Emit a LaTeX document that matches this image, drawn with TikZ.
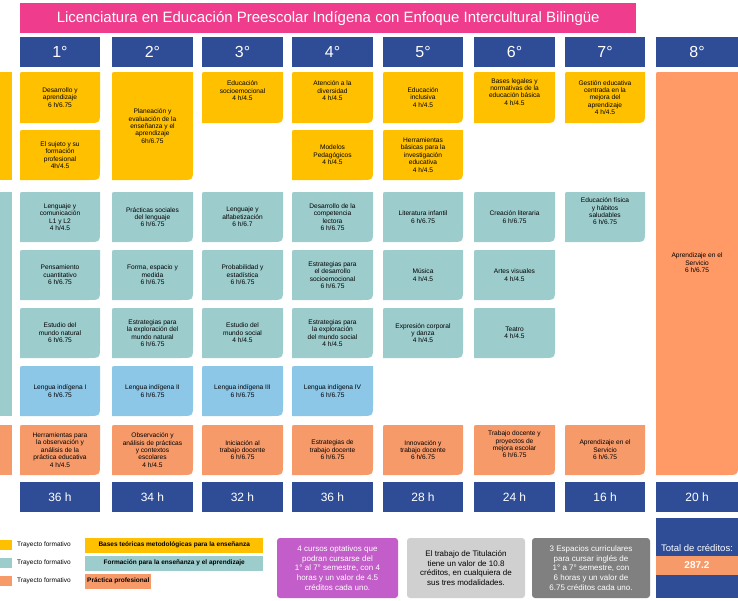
\documentclass[tikz,border=0pt]{standalone}
\usepackage{fontspec}
\setmainfont{Liberation Sans}
\definecolor{navy}{HTML}{2E4D96}
\definecolor{yel}{HTML}{FFC000}
\definecolor{teal2}{HTML}{9DCCCD}
\definecolor{lblue}{HTML}{8DC7E8}
\definecolor{ora}{HTML}{F79A6A}
\definecolor{ora8}{HTML}{FF9966}
\definecolor{pink2}{HTML}{F03C8C}
\definecolor{purp}{HTML}{C35DC9}
\definecolor{lgray}{HTML}{D0D0D0}
\definecolor{dgray}{HTML}{808080}
\tikzset{ctext/.style={align=center,font=\fontsize{6.6}{7.4}\selectfont,inner sep=0pt},
 hdr/.style={fill=navy,text=white,minimum height=30pt,inner sep=0pt,font=\fontsize{16}{18}\selectfont},
 tot/.style={fill=navy,text=white,minimum height=30pt,inner sep=0pt,font=\fontsize{12}{14}\selectfont},
 legtxt/.style={font=\fontsize{6.5}{7.5}\selectfont,anchor=west,inner sep=0pt},
 leglab/.style={font=\bfseries\fontsize{6.5}{7.5}\selectfont,anchor=west,inner sep=2pt,minimum height=15pt},
 note/.style={align=center,font=\fontsize{8}{9.6}\selectfont,inner sep=0pt}}
\newcommand\cb[7]{%
 \fill[#2] (#3,#4+3) .. controls (#3,#4) .. (#3+3,#4) -- (#5,#4) -- (#5,#6-12) .. controls (#5,#6) .. (#5-12,#6) -- (#3,#6) -- cycle;
 \node[ctext] (#1) at ({(#3+#5)/2},{(#4+#6)/2}) {#7};}
\begin{document}
\begin{tikzpicture}[x=1pt,y=-1pt]
\useasboundingbox (0,0) rectangle (738,600);
% title
\node[fill=pink2,text=white,anchor=north west,minimum width=616pt,minimum height=30pt,inner sep=0pt,font=\fontsize{15}{17}\selectfont] (title) at (20,3) {Licenciatura en Educación Preescolar Indígena con Enfoque Intercultural Bilingüe};
% headers
\foreach \n/\a/\b in {1/20/100,2/112/193,3/202/283,4/292/373,5/383/463,6/474/555,7/565/645,8/656/738}{
 \node[hdr,minimum width={(\b-\a)*1pt}] (h\n) at ({(\a+\b)/2},52) {\n°};}
% left strips
\fill[yel] (0,72) rectangle (12,180);
\fill[teal2] (0,192) rectangle (12,416);
\fill[ora] (0,425) rectangle (12,475);
% yellow
\cb{y11}{yel}{20}{72}{100}{123}{Desarrollo y\\aprendizaje\\6 h/6.75}
\cb{y12}{yel}{20}{130}{100}{180}{El sujeto y su\\formación\\profesional\\4h/4.5}
\cb{y2}{yel}{112}{72}{193}{180}{Planeación y\\evaluación de la\\enseñanza y el\\aprendizaje\\6h/6.75}
\cb{y3}{yel}{202}{72}{283}{123}{Educación\\socioemocional\\4 h/4.5\\[6pt]}
\cb{y41}{yel}{292}{72}{373}{123}{Atención a la\\diversidad\\4 h/4.5\\[6pt]}
\cb{y42}{yel}{292}{130}{373}{180}{Modelos\\Pedagógicos\\4 h/4.5}
\cb{y51}{yel}{383}{72}{463}{123}{Educación\\inclusiva\\4 h/4.5}
\cb{y52}{yel}{383}{130}{463}{180}{Herramientas\\básicas para la\\investigación\\educativa\\4 h/4.5}
\cb{y6}{yel}{474}{72}{555}{123}{Bases legales y\\normativas de la\\educación básica\\4 h/4.5\\[4pt]}
\cb{y7}{yel}{565}{72}{645}{123}{Gestión educativa\\centrada en la\\mejora del\\aprendizaje\\4 h/4.5}
% teal row1
\cb{t11}{teal2}{20}{192}{100}{242}{Lenguaje y\\comunicación\\L1 y L2\\4 h/4.5}
\cb{t21}{teal2}{112}{192}{193}{242}{Prácticas sociales\\del lenguaje\\6 h/6.75}
\cb{t31}{teal2}{202}{192}{283}{242}{Lenguaje y\\alfabetización\\6 h/6.7}
\cb{t41}{teal2}{292}{192}{373}{242}{Desarrollo de la\\competencia\\lectora\\6 h/6.75}
\cb{t51}{teal2}{383}{192}{463}{242}{Literatura infantil\\6 h/6.75}
\cb{t61}{teal2}{474}{192}{555}{242}{Creación literaria\\6 h/6.75}
\cb{t71}{teal2}{565}{192}{645}{242}{Educación física\\y hábitos\\saludables\\6 h/6.75\\[4pt]}
% teal row2
\cb{t12}{teal2}{20}{250}{100}{300}{Pensamiento\\cuantitativo\\6 h/6.75}
\cb{t22}{teal2}{112}{250}{193}{300}{Forma, espacio y\\medida\\6 h/6.75}
\cb{t32}{teal2}{202}{250}{283}{300}{Probabilidad y\\estadística\\6 h/6.75}
\cb{t42}{teal2}{292}{250}{373}{300}{Estrategias para\\el desarrollo\\socioemocional\\6 h/6.75}
\cb{t52}{teal2}{383}{250}{463}{300}{Música\\4 h/4.5}
\cb{t62}{teal2}{474}{250}{555}{300}{Artes visuales\\4 h/4.5}
% teal row3
\cb{t13}{teal2}{20}{308}{100}{358}{Estudio del\\mundo natural\\6 h/6.75}
\cb{t23}{teal2}{112}{308}{193}{358}{Estrategias para\\la exploración del\\mundo natural\\6 h/6.75}
\cb{t33}{teal2}{202}{308}{283}{358}{Estudio del\\mundo social\\4 h/4.5}
\cb{t43}{teal2}{292}{308}{373}{358}{Estrategias para\\la exploración\\del mundo social\\4 h/4.5}
\cb{t53}{teal2}{383}{308}{463}{358}{Expresión corporal\\y danza\\4 h/4.5}
\cb{t63}{teal2}{474}{308}{555}{358}{Teatro\\4 h/4.5}
% lengua
\cb{l1}{lblue}{20}{366}{100}{416}{Lengua indígena I\\6 h/6.75}
\cb{l2}{lblue}{112}{366}{193}{416}{Lengua indígena II\\6 h/6.75}
\cb{l3}{lblue}{202}{366}{283}{416}{Lengua indígena III\\6 h/6.75}
\cb{l4}{lblue}{292}{366}{373}{416}{Lengua indígena IV\\6 h/6.75}
% orange
\cb{o1}{ora}{20}{425}{100}{475}{Herramientas para\\la observación y\\análisis de la\\práctica educativa\\4 h/4.5}
\cb{o2}{ora}{112}{425}{193}{475}{Observación y\\análisis de prácticas\\y contextos\\escolares\\4 h/4.5}
\cb{o3}{ora}{202}{425}{283}{475}{Iniciación al\\trabajo docente\\6 h/6.75}
\cb{o4}{ora}{292}{425}{373}{475}{Estrategias de\\trabajo docente\\6 h/6.75}
\cb{o5}{ora}{383}{425}{463}{475}{Innovación y\\trabajo docente\\6 h/6.75}
\cb{o6}{ora}{474}{425}{555}{475}{Trabajo docente y\\proyectos de\\mejora escolar\\6 h/6.75\\[4pt]}
\cb{o7}{ora}{565}{425}{645}{475}{Aprendizaje en el\\Servicio\\6 h/6.75}
\cb{o8}{ora8}{656}{72}{738}{475}{Aprendizaje en el\\Servicio\\6 h/6.75\\[14pt]}
% totals
\foreach \n/\a/\b/\t in {1/20/100/36 h/40.5,2/112/193/34 h/38.25,3/202/283/32 h/36,4/292/373/36 h/40.5,5/383/463/28 h/31.5,6/474/555/24 h/27,7/565/645/16 h/18,8/656/738/20 h/6.4}{
 \node[tot,minimum width={(\b-\a)*1pt}] (s\n) at ({(\a+\b)/2},497) {\t};}
% legend
\fill[yel] (0,540) rectangle (12,550);
\fill[teal2] (0,558) rectangle (12,568);
\fill[ora] (0,576) rectangle (12,586);
\node[legtxt] (lt1) at (17,545) {Trayecto formativo};
\node[legtxt] (lt2) at (17,563) {Trayecto formativo};
\node[legtxt] (lt3) at (17,581) {Trayecto formativo};
\node[leglab,fill=yel,minimum width=178pt] (lb1) at (85,545) {Bases teóricas metodológicas para la enseñanza};
\node[leglab,fill=teal2,minimum width=178pt] (lb2) at (85,563) {Formación para la enseñanza y el aprendizaje};
\node[leglab,fill=ora] (lb3) at (85,581) {Práctica profesional};
% notes
\fill[purp,rounded corners=3pt] (277,538) rectangle (398,598);
\node[note,text=white] (n1) at (337.5,568) {4 cursos optativos que\\podran cursarse del\\1° al 7° semestre, con 4\\horas y un valor de 4.5\\créditos cada uno.};
\fill[lgray,rounded corners=3pt] (407,538) rectangle (525,598);
\node[note] (n2) at (466,568) {El trabajo de Titulación\\tiene un valor de 10.8\\créditos, en cualquiera de\\sus tres modalidades.};
\fill[dgray,rounded corners=3pt] (532,538) rectangle (650,598);
\node[note,text=white] (n3) at (591,568) {3 Espacios curriculares\\para cursar inglés de\\1° a 7° semestre, con\\6 horas y un valor de\\6.75 créditos cada uno.};
% total credits
\fill[navy] (656,518) rectangle (738,598);
\fill[ora] (656,556) rectangle (738,575);
\node[text=white,font=\fontsize{9.5}{11}\selectfont,inner sep=0pt] (tc) at (697,548) {Total de créditos:};
\node[text=white,font=\bfseries\fontsize{10}{12}\selectfont,inner sep=0pt] (tv) at (697,565.5) {287.2};
\end{tikzpicture}
\end{document}
